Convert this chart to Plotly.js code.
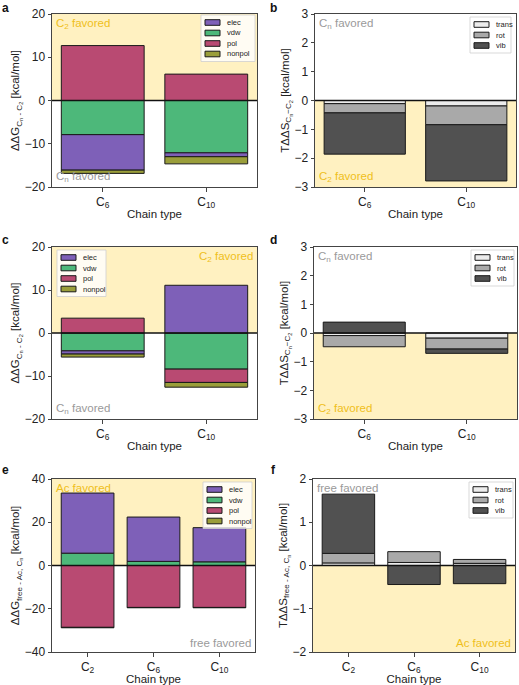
<!DOCTYPE html>
<html><head><meta charset="utf-8">
<script src="https://cdn.plot.ly/plotly-3.0.1.min.js"></script>
<style>html,body{margin:0;padding:0;background:#fff;} #chart{width:519px;height:685px;}</style>
</head><body><div id="chart"></div>
<script>
const W = 519, H = 685;

// ---- categories & tick labels ----
const catsTwo = ['C6', 'C10'];
const catsThree = ['C2', 'C6', 'C10'];
const tickTwo = ['C<sub>6</sub>', 'C<sub>10</sub>'];
const tickThree = ['C<sub>2</sub>', 'C<sub>6</sub>', 'C<sub>10</sub>'];

// ---- series names / colors ----
const energyNames = ['elec', 'vdw', 'pol', 'nonpol'];
const energyColors = ['#7e60b8', '#4db87a', '#b94a72', '#9a9e3a'];
const energyStack = ['vdw', 'elec', 'pol', 'nonpol'];
const entropyNames = ['trans', 'rot', 'vib'];
const entropyColors = ['#ececec', '#a9a9a9', '#515151'];
const entropyStack = ['trans', 'rot', 'vib'];

// ---- panel a: ΔΔG Cn - C2 (kcal/mol), C6, C10 ----
const elecA = [-8.2, -0.9];
const vdwA = [-7.9, -12.1];
const polA = [12.7, 6.1];
const nonpolA = [-0.75, -1.65];

// ---- panel b: TΔΔS Cn - C2 ----
const transB = [-0.11, -0.19];
const rotB = [-0.32, -0.65];
const vibB = [-1.43, -1.95];

// ---- panel c ----
const elecC = [-0.75, 11.1];
const vdwC = [-4.15, -8.4];
const polC = [3.45, -3.1];
const nonpolC = [-0.7, -1.1];

// ---- panel d ----
const transD = [-0.09, -0.18];
const rotD = [-0.39, -0.38];
const vibD = [0.38, -0.15];

// ---- panel e: ΔΔG free - Ac, Cn (C2, C6, C10) ----
const elecE = [27.8, 20.5, 15.8];
const vdwE = [5.7, 1.9, 1.7];
const polE = [-28.6, -19.4, -19.4];
const nonpolE = [-0.2, -0.15, -0.15];

// ---- panel f ----
const transF = [0.06, 0.07, 0.05];
const rotF = [0.22, 0.25, 0.09];
const vibF = [1.37, -0.44, -0.42];

const GOLD = '#efbf1b', GRAY = '#9a9a9a';
const FONT = 'Liberation Sans, Arial, sans-serif';

const ylabG = 'ΔΔG<sub>C<sub>n</sub> - C<sub>2</sub></sub> [kcal/mol]';
const ylabS = 'TΔΔS<sub>C<sub>n</sub>−C<sub>2</sub></sub> [kcal/mol]';
const ylabGe = 'ΔΔG<sub>free - Ac, C<sub>n</sub></sub> [kcal/mol]';
const ylabSf = 'TΔΔS<sub>free - Ac, C<sub>n</sub></sub> [kcal/mol]';

const c2fav = 'C<sub>2</sub> favored', cnfav = 'C<sub>n</sub> favored';

const panels = [
  {lab:'a', labPx:[5,8], n:1, xpx:[52,257], ypx:[14,187], cats:catsTwo, ticks:tickTwo, yr:[-20,20], dt:10, kind:'E',
   data:{elec:elecA, vdw:vdwA, pol:polA, nonpol:nonpolA}, shade:'up', yt:ylabG,
   notes:[[c2fav,GOLD,'tl'],[cnfav,GRAY,'bl']], leg:[201,15,54]},
  {lab:'b', labPx:[273,8], n:2, xpx:[315,516], ypx:[14,187], cats:catsTwo, ticks:tickTwo, yr:[-3,3], dt:1, kind:'S',
   data:{trans:transB, rot:rotB, vib:vibB}, shade:'down', yt:ylabS,
   notes:[[cnfav,GRAY,'tl'],[c2fav,GOLD,'bl']], leg:[470,17,41]},
  {lab:'c', labPx:[5,240], n:3, xpx:[52,257], ypx:[247,419], cats:catsTwo, ticks:tickTwo, yr:[-20,20], dt:10, kind:'E',
   data:{elec:elecC, vdw:vdwC, pol:polC, nonpol:nonpolC}, shade:'up', yt:ylabG,
   notes:[[c2fav,GOLD,'tr'],[cnfav,GRAY,'bl']], leg:[57,250,49]},
  {lab:'d', labPx:[273,240], n:4, xpx:[314,517], ypx:[247,419], cats:catsTwo, ticks:tickTwo, yr:[-3,3], dt:1, kind:'S',
   data:{trans:transD, rot:rotD, vib:vibD}, shade:'down', yt:ylabS,
   notes:[[cnfav,GRAY,'tl'],[c2fav,GOLD,'bl']], leg:[471,250,43]},
  {lab:'e', labPx:[5,470], n:5, xpx:[52,255], ypx:[479,652], cats:catsThree, ticks:tickThree, yr:[-40,40], dt:20, kind:'E',
   data:{elec:elecE, vdw:vdwE, pol:polE, nonpol:nonpolE}, shade:'up', yt:ylabGe,
   notes:[['Ac favored',GOLD,'tl'],['free favored',GRAY,'br']], leg:[203,482,49]},
  {lab:'f', labPx:[273,470], n:6, xpx:[313,515], ypx:[479,652], cats:catsThree, ticks:tickThree, yr:[-2,2], dt:1, kind:'S',
   data:{trans:transF, rot:rotF, vib:vibF}, shade:'down', yt:ylabSf,
   notes:[['free favored',GRAY,'tl'],['Ac favored',GOLD,'br']], leg:[469,482,44]}
];

const px2x = p => p / W;
const px2y = p => 1 - p / H;

const traces = [];
const layout = {
  width: W, height: H,
  margin: {l:0, r:0, t:0, b:0},
  paper_bgcolor: '#ffffff', plot_bgcolor: 'rgba(0,0,0,0)',
  barmode: 'relative',
  showlegend: false,
  font: {family: FONT, color: '#222', size: 12},
  shapes: [], annotations: []
};

panels.forEach(p => {
  const sfx = p.n === 1 ? '' : String(p.n);
  const xa = 'x' + sfx, ya = 'y' + sfx;
  const names = p.kind === 'E' ? energyNames : entropyNames;
  const colors = p.kind === 'E' ? energyColors : entropyColors;
  const order = p.kind === 'E' ? energyStack : entropyStack;

  order.forEach(nm => {
    traces.push({
      type: 'bar', name: nm, x: p.cats, y: p.data[nm],
      xaxis: xa, yaxis: ya, width: 0.8,
      marker: {color: colors[names.indexOf(nm)], line: {color: '#1a1a1a', width: 1}},
      hoverinfo: 'skip'
    });
  });

  const nc = p.cats.length;
  const pad = (nc - 1 + 0.8) * 0.05 + 0.4;
  layout['xaxis' + sfx] = {
    domain: [px2x(p.xpx[0]), px2x(p.xpx[1])], anchor: ya,
    type: 'category', categoryorder: 'array', categoryarray: p.cats,
    range: [-pad, nc - 1 + pad],
    tickmode: 'array', tickvals: p.cats, ticktext: p.ticks,
    ticks: 'outside', ticklen: 3.5, tickcolor: '#444', tickwidth: 1,
    showline: true, mirror: true, linecolor: '#444', linewidth: 1,
    showgrid: false, zeroline: false, fixedrange: true,
    tickfont: {size: 12, color: '#222'},
    title: {text: 'Chain type', font: {size: 11.5, color: '#222'}, standoff: 0}
  };
  layout['yaxis' + sfx] = {
    domain: [px2y(p.ypx[1]), px2y(p.ypx[0])], anchor: xa,
    range: p.yr, tick0: 0, dtick: p.dt,
    ticks: 'outside', ticklen: 3.5, tickcolor: '#444', tickwidth: 1,
    showline: true, mirror: true, linecolor: '#444', linewidth: 1,
    showgrid: false, zeroline: false, fixedrange: true,
    tickfont: {size: 12, color: '#222'},
    title: {text: p.yt, font: {size: 11.5, color: '#222'}, standoff: 2}
  };

  // favoured-region shading
  layout.shapes.push({
    type: 'rect', xref: xa + ' domain', yref: ya, x0: 0, x1: 1,
    y0: 0, y1: p.shade === 'up' ? p.yr[1] : p.yr[0],
    fillcolor: '#fff1c1', line: {width: 0}, layer: 'below'
  });
  // zero line
  layout.shapes.push({
    type: 'line', xref: xa + ' domain', yref: ya, x0: 0, x1: 1, y0: 0, y1: 0,
    line: {color: '#111', width: 1.5}, layer: 'above'
  });

  // region notes
  p.notes.forEach(([txt, col, pos]) => {
    const top = pos[0] === 't', left = pos[1] === 'l';
    layout.annotations.push({
      text: txt, xref: xa + ' domain', yref: ya + ' domain',
      x: left ? 0.012 : 0.988, y: top ? 0.995 : 0.005,
      xanchor: left ? 'left' : 'right', yanchor: top ? 'top' : 'bottom',
      showarrow: false, font: {size: 11.5, color: col, family: FONT}
    });
  });

  // panel letter
  layout.annotations.push({
    text: '<b>' + p.lab + '</b>', xref: 'paper', yref: 'paper',
    x: px2x(p.labPx[0]), y: px2y(p.labPx[1]), xanchor: 'center', yanchor: 'middle',
    showarrow: false, font: {size: 12, color: '#111', family: FONT}
  });

  // legend box (matplotlib-style patches)
  const [lx, ly, lw] = p.leg;
  const nrow = names.length;
  const rowH = 10.5;
  const lh = 15 + (nrow - 1) * rowH;
  layout.shapes.push({
    type: 'rect', xref: 'paper', yref: 'paper',
    x0: px2x(lx), x1: px2x(lx + lw), y0: px2y(ly + lh), y1: px2y(ly),
    fillcolor: 'rgba(255,255,255,0.8)', line: {color: '#cfcfcf', width: 0.8}, layer: 'above'
  });
  names.forEach((nm, i) => {
    const cy = ly + 7.5 + i * rowH;
    layout.shapes.push({
      type: 'rect', xref: 'paper', yref: 'paper',
      x0: px2x(lx + 4), x1: px2x(lx + 19), y0: px2y(cy + 2.8), y1: px2y(cy - 2.8),
      fillcolor: colors[i], line: {color: '#1a1a1a', width: 1}, layer: 'above'
    });
    layout.annotations.push({
      text: nm, xref: 'paper', yref: 'paper',
      x: px2x(lx + 24), y: px2y(cy), xanchor: 'left', yanchor: 'middle',
      showarrow: false, font: {size: 7.5, color: '#222', family: FONT}
    });
  });
});

Plotly.newPlot('chart', traces, layout, {displayModeBar: false, staticPlot: true});
</script></body></html>
